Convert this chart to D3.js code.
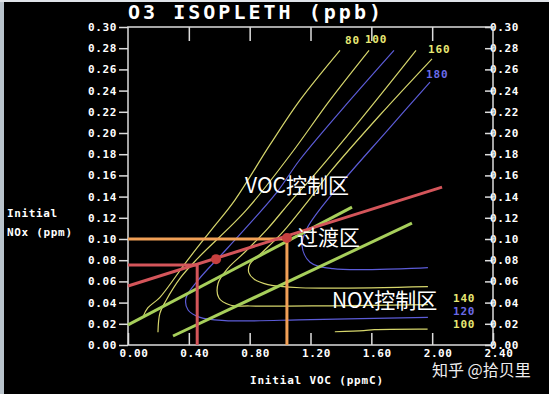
<!DOCTYPE html>
<html>
<head>
<meta charset="utf-8">
<script src="https://cdn.jsdelivr.net/npm/d3@7"></script>
<style>
html,body{margin:0;padding:0;background:#000;}
svg{display:block;}
</style>
</head>
<body>
<svg id="chart" width="549" height="394"></svg>
<script>
// ---------- DATA ----------
const chartTitle = "O3 ISOPLETH (ppb)";
const xAxisTitle = "Initial VOC (ppmC)";
const yAxisTitle = ["Initial", "NOx (ppm)"];
const xTickLabels = ["0.00","0.40","0.80","1.20","1.60","2.00","2.40"];
const yTickLabels = ["0.00","0.02","0.04","0.06","0.08","0.10","0.12","0.14","0.16","0.18","0.20","0.22","0.24","0.26","0.28","0.30"];

// isopleth levels (ppb) and traced curves [VOC ppmC, NOx ppm]
const iso80 = [[1.394,0.278],[1.131,0.231],[0.934,0.189],[0.704,0.137],[0.539,0.107],[0.381,0.078],[0.210,0.045],[0.130,0.035],[0.100,0.027]];
const iso100a = [[1.585,0.278],[1.328,0.231],[1.065,0.179],[0.776,0.127],[0.460,0.082],[0.348,0.064],[0.250,0.042],[0.210,0.030],[0.197,0.012]];
const iso100b = [[1.36,0.0125],[1.55,0.0135],[1.62,0.0145],[1.97,0.0150]];
const iso120 = [[1.749,0.278],[1.46,0.231],[1.131,0.175],[0.973,0.143],[0.658,0.092],[0.460,0.061],[0.381,0.044],[0.395,0.033],[0.473,0.026],[0.638,0.023],[1.203,0.024],[1.972,0.026]];
const iso140 = [[1.894,0.278],[1.525,0.212],[1.210,0.158],[1.078,0.137],[0.920,0.110],[0.769,0.0877],[0.658,0.0726],[0.592,0.058],[0.598,0.0443],[0.671,0.0377],[0.802,0.0368],[1.328,0.037],[1.972,0.038]];
const iso160 = [[1.999,0.270],[1.657,0.217],[1.328,0.163],[1.190,0.137],[1.020,0.107],[0.880,0.087],[0.800,0.076],[0.795,0.068],[0.830,0.062],[0.920,0.057],[1.131,0.054],[1.972,0.055]];
const iso180 = [[1.986,0.248],[1.709,0.203],[1.328,0.140],[1.177,0.110],[1.144,0.094],[1.197,0.078],[1.348,0.072],[1.972,0.073]];

const isoCurves = [
  {level:80, pts:iso80},
  {level:100, pts:iso100a},
  {level:100, pts:iso100b},
  {level:120, pts:iso120},
  {level:140, pts:iso140},
  {level:160, pts:iso160},
  {level:180, pts:iso180}
];
const topLabels = [{t:"80",at:[1.427,0.284],level:80},{t:"100",at:[1.558,0.285],level:100},{t:"160",at:[1.973,0.2755],level:160},{t:"180",at:[1.96,0.252],level:180}];
const rightLabels = [{t:"140",at:[2.137,0.0406],level:140},{t:"120",at:[2.137,0.0283],level:120},{t:"100",at:[2.137,0.016],level:100}];

// annotation lines
const ridgeLine = [[0,0.0557],[2.065,0.149]];
const greenUpper = [[0,0.019],[1.473,0.130]];
const greenLower = [[0.296,0.0085],[1.867,0.115]];
const redGuide = [[0,0.0755],[0.455,0.0755],[0.455,0]];
const orangeGuide = [[0,0.100],[1.045,0.100],[1.045,0]];
const dots = [[0.579,0.081],[1.045,0.101]];
const regionTexts = [{t:"VOC控制区",at:[0.77,0.143]},{t:"过渡区",at:[1.111,0.094]},{t:"NOX控制区",at:[1.341,0.035]}];
const watermark = "知乎 @拾贝里";

// ---------- DRAW ----------
const svg = d3.select("#chart");
svg.append("rect").attr("width",549).attr("height",394).attr("fill","#000");
svg.append("rect").attr("x",0).attr("y",0).attr("width",4).attr("height",394).attr("fill","#b9c3cb");
svg.append("rect").attr("x",0).attr("y",0).attr("width",549).attr("height",2).attr("fill","#dfe3e8");

const x = d3.scaleLinear().domain([0,2.4]).range([128,493]);
const y = d3.scaleLinear().domain([0,0.30]).range([345,27]);

const monoFont = "'DejaVu Sans Mono', 'Liberation Mono', monospace";
const cjkFont = "'Noto Sans CJK SC', 'Noto Sans', sans-serif";
const yellow = "#d6d66c", blue = "#5c5cd8";
const levelColor = l => (l===120 || l===180) ? blue : yellow;
const labelColor = l => (l===120 || l===180) ? "#6a6ae8" : "#e8e874";

// title
svg.append("text").attr("x",128).attr("y",19).attr("fill","#fff")
  .attr("font-family",monoFont).attr("font-weight","bold").attr("font-size",20)
  .attr("textLength",253).attr("lengthAdjust","spacing").text(chartTitle);

// axes
const xVals = xTickLabels.map(Number);
const yVals = yTickLabels.map(Number);
function styleAxis(g){
  g.select(".domain").remove();
  g.attr("font-family",monoFont).attr("font-size",11).attr("font-weight","bold");
  g.selectAll("line").attr("stroke","#dddddd").attr("stroke-width",1.5);
  g.selectAll("text").attr("fill","#ffffff").attr("letter-spacing",0.6);
}
svg.append("g").attr("transform","translate(128,0)")
  .call(d3.axisLeft(y).tickValues(yVals).tickSizeInner(9).tickSizeOuter(0).tickPadding(2).tickFormat((d,i)=>yTickLabels[i]))
  .call(styleAxis);
svg.append("g").attr("transform","translate(493,0)")
  .call(d3.axisRight(y).tickValues(yVals).tickSizeInner(-8).tickSizeOuter(0).tickPadding(-3).tickFormat((d,i)=>yTickLabels[i]))
  .call(styleAxis);
const gb = svg.append("g").attr("transform","translate(0,345)")
  .call(d3.axisBottom(x).tickValues(xVals).tickSizeInner(-12).tickSizeOuter(0).tickPadding(4).tickFormat((d,i)=>xTickLabels[i]))
  .call(styleAxis);
gb.selectAll("text").attr("text-anchor","start").attr("x",-9);
svg.append("g").attr("transform","translate(0,27)")
  .call(d3.axisTop(x).tickValues(xVals.slice(1,-1)).tickSizeInner(-14).tickSizeOuter(0).tickFormat(""))
  .call(styleAxis);
svg.append("rect").attr("x",128).attr("y",27).attr("width",365).attr("height",318)
  .attr("fill","none").attr("stroke","#dddddd").attr("stroke-width",1.5);

// axis titles
svg.append("text").attr("x",250).attr("y",384).attr("fill","#fff").attr("font-family",monoFont)
  .attr("font-weight","bold").attr("font-size",11).attr("textLength",133).attr("lengthAdjust","spacing").text(xAxisTitle);
svg.append("text").attr("x",7).attr("y",217).attr("fill","#fff").attr("font-family",monoFont)
  .attr("font-weight","bold").attr("font-size",11).attr("textLength",50).attr("lengthAdjust","spacing").text(yAxisTitle[0]);
svg.append("text").attr("x",7).attr("y",236).attr("fill","#fff").attr("font-family",monoFont)
  .attr("font-weight","bold").attr("font-size",11).attr("textLength",65).attr("lengthAdjust","spacing").text(yAxisTitle[1]);

// isopleths
const curveLine = d3.line().x(d=>x(d[0])).y(d=>y(d[1])).curve(d3.curveCatmullRom.alpha(0.5));
svg.append("g").selectAll("path").data(isoCurves).join("path")
  .attr("d",d=>curveLine(d.pts)).attr("fill","none")
  .attr("stroke",d=>levelColor(d.level)).attr("stroke-width",1.2);

// isopleth labels
svg.append("g").selectAll("text").data(topLabels.concat(rightLabels)).join("text")
  .attr("x",d=>x(d.at[0])).attr("y",d=>y(d.at[1])).attr("fill",d=>labelColor(d.level))
  .attr("font-family",monoFont).attr("font-weight","bold").attr("font-size",11)
  .attr("letter-spacing",0.8).text(d=>d.t);

// annotation lines
const straight = d3.line().x(d=>x(d[0])).y(d=>y(d[1]));
svg.append("path").attr("d",straight(greenUpper)).attr("stroke","#a7cf5b").attr("stroke-width",3).attr("fill","none");
svg.append("path").attr("d",straight(greenLower)).attr("stroke","#a7cf5b").attr("stroke-width",3).attr("fill","none");
svg.append("path").attr("d",straight(orangeGuide)).attr("stroke","#f2a056").attr("stroke-width",3).attr("fill","none");
svg.append("path").attr("d",straight(redGuide)).attr("stroke","#d4555a").attr("stroke-width",3).attr("fill","none");
svg.append("path").attr("d",straight(ridgeLine)).attr("stroke","#d4555a").attr("stroke-width",3).attr("fill","none");
svg.append("g").selectAll("circle").data(dots).join("circle")
  .attr("cx",d=>x(d[0])).attr("cy",d=>y(d[1])).attr("r",5).attr("fill","#c8403f");

// region texts
svg.append("g").selectAll("text").data(regionTexts).join("text")
  .attr("x",d=>x(d.at[0])).attr("y",d=>y(d.at[1])).attr("fill","#ffffff")
  .attr("font-family",cjkFont).attr("font-size",21).text(d=>d.t);

// watermark
svg.append("text").attr("x",432).attr("y",376).attr("fill","#eeeeee")
  .attr("font-family",cjkFont).attr("font-size",16).text(watermark);
</script>
</body>
</html>
